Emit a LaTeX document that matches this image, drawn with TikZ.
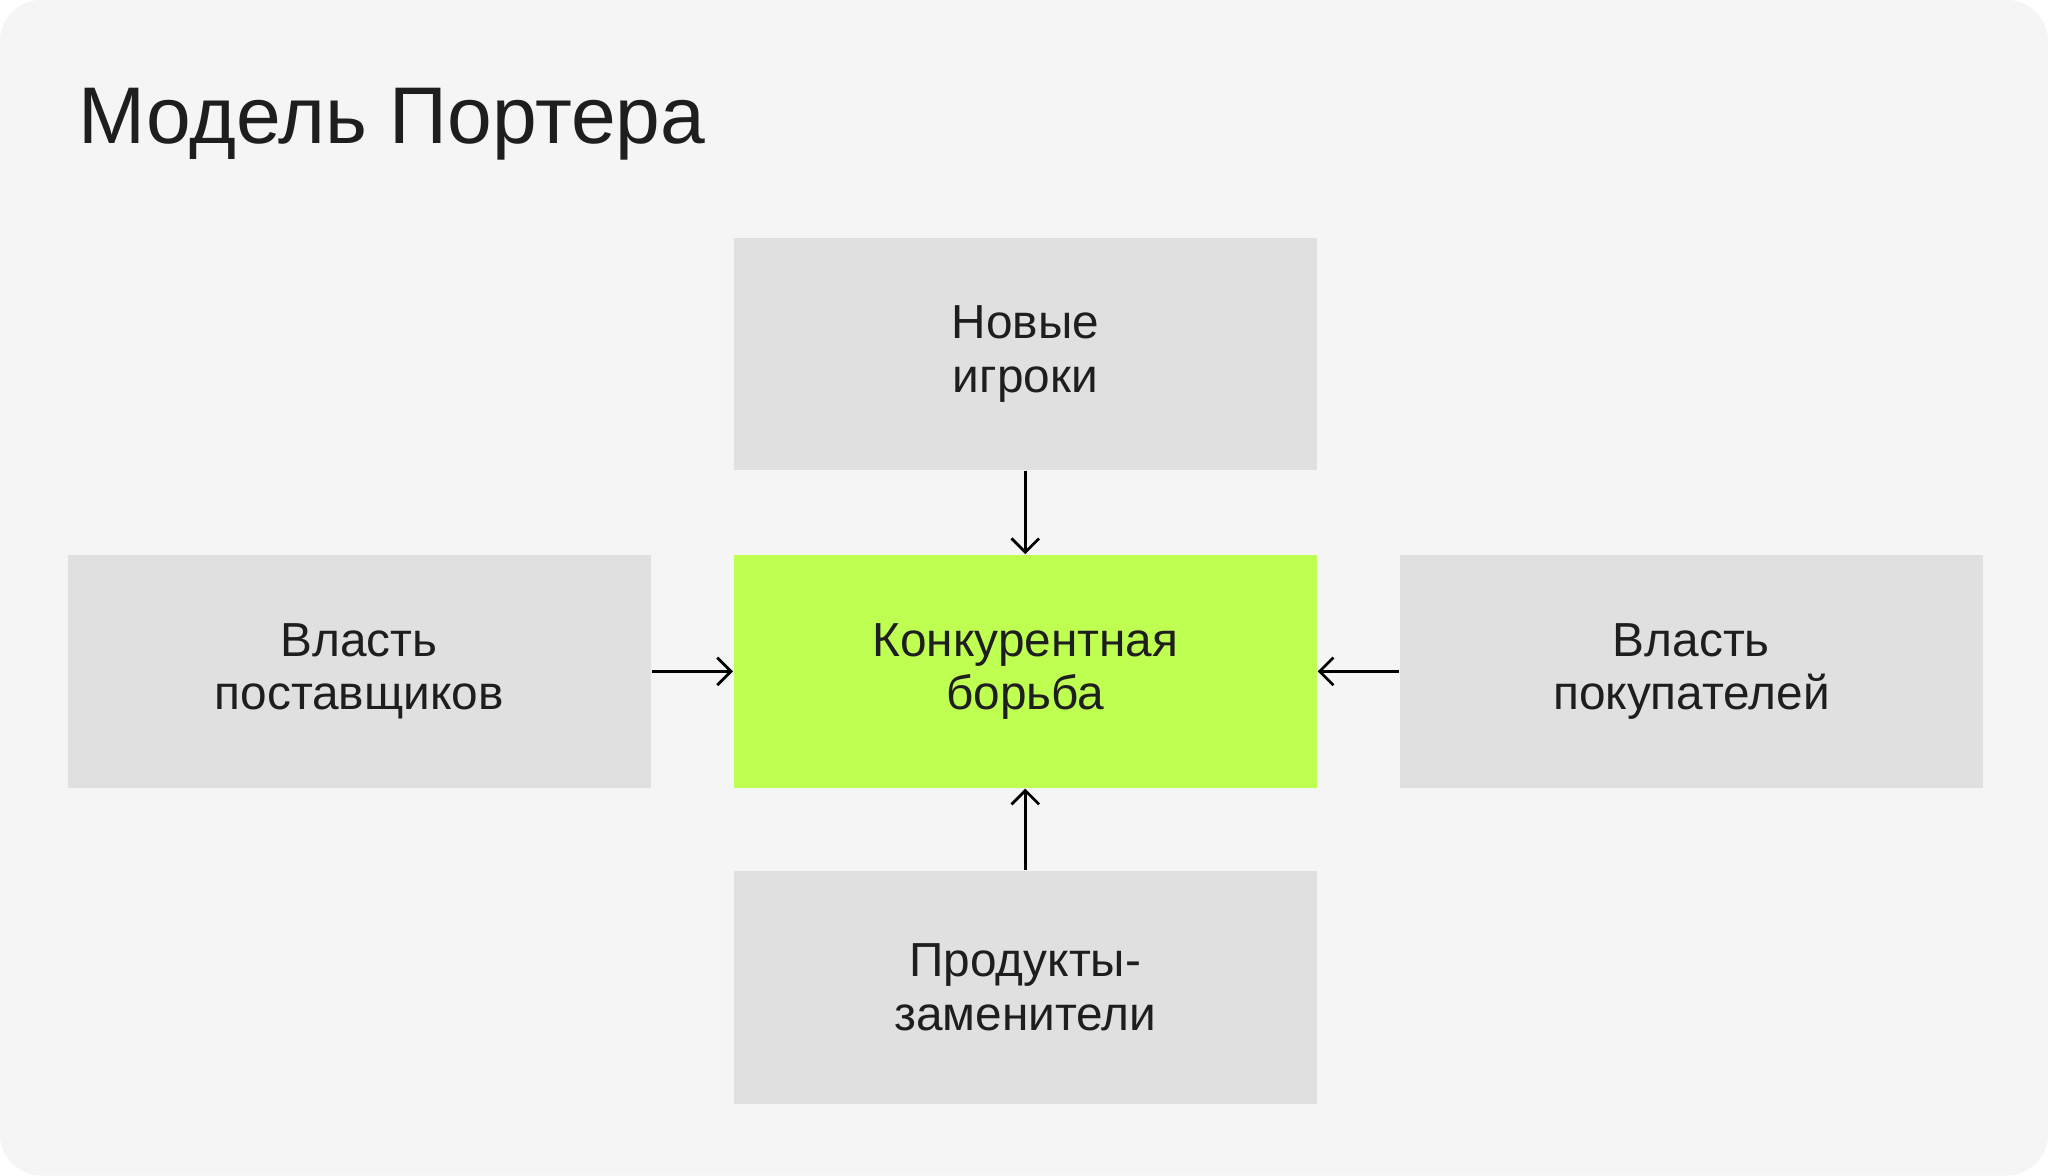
\documentclass[tikz,border=0pt]{standalone}
\usepackage{fontspec}
\setmainfont{Liberation Sans}
\usetikzlibrary{arrows.meta}
\definecolor{bg}{HTML}{F5F5F5}
\definecolor{boxg}{HTML}{E0E0E0}
\definecolor{lime}{HTML}{BFFF52}
\definecolor{ink}{HTML}{1E1E1E}
\begin{document}
\begin{tikzpicture}[x=0.01cm,y=-0.01cm,
  boxn/.style={fill=boxg,draw=none,minimum width=4.46cm,minimum height=1.78cm,inner sep=0pt,align=center,font=\fontsize{10.4}{11.6}\selectfont,text=ink},
  arr/.style={draw=black,line width=0.6pt,-{Straight Barb[length=3pt,width=6pt]}}]
\useasboundingbox (0,0) rectangle (1568,900);
\fill[white] (0,0) rectangle (1568,900);
\fill[bg,rounded corners=9pt] (0,0) rectangle (1568,900);
\node[anchor=base west,font=\fontsize{17.5}{20}\selectfont,text=ink] (title) at (48,110) {Модель Портера};
\node[boxn] (top) at (785,271) {Новые\\игроки};
\node[boxn,fill=lime] (mid) at (785,514) {Конкурентная\\борьба};
\node[boxn] (left) at (275,514) {Власть\\поставщиков};
\node[boxn] (right) at (1295,514) {Власть\\покупателей};
\node[boxn] (bot) at (785,756) {Продукты-\\заменители};
\draw[arr] (top) -- (mid);
\draw[arr] (bot) -- (mid);
\draw[arr] (left) -- (mid);
\draw[arr] (right) -- (mid);
\end{tikzpicture}
\end{document}
